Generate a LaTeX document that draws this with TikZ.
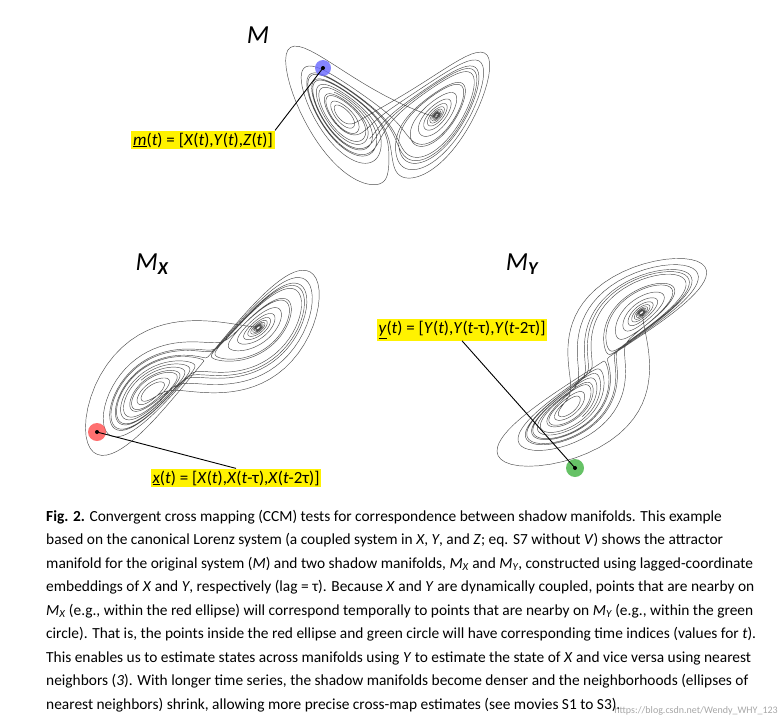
\documentclass[tikz,border=0pt]{standalone}
\usepackage{fontspec}
\setmainfont{Carlito}
\newcount\lc
\newcommand{\lorenzrun}[3]{% #1 px expr, #2 py expr, #3 steps
  \def\lx{1}\def\ly{1}\def\lz{20}\lc=0
  \loop
    \pgfmathsetmacro\dx{10*(\ly-\lx)}%
    \pgfmathsetmacro\dy{\lx*(28-\lz)-\ly}%
    \pgfmathsetmacro\dz{\lx*\ly-2.6667*\lz}%
    \pgfmathsetmacro\lx{\lx+0.008*\dx}%
    \pgfmathsetmacro\ly{\ly+0.008*\dy}%
    \pgfmathsetmacro\lz{\lz+0.008*\dz}%
    \pgfmathsetmacro\ppx{#1}\pgfmathsetmacro\ppy{-(#2)}%
    \ifnum\lc=150 \pgfpathmoveto{\pgfpoint{\ppx pt}{\ppy pt}}\fi
    \ifnum\lc>150 \pgfpathlineto{\pgfpoint{\ppx pt}{\ppy pt}}\fi
    \advance\lc 1
  \ifnum\lc<#3 \repeat
  \pgfsetlinewidth{0.45pt}\pgfsetstrokecolor{black!70}\pgfusepath{stroke}}
\begin{document}
\begin{tikzpicture}[x=1pt,y=-1pt,
  lab/.style={fill=yellow,inner sep=2pt,font=\fontsize{17}{19}\selectfont},
  ttl/.style={font=\fontsize{26}{28}\selectfont\itshape},
  conn/.style={line width=0.9pt}]
\useasboundingbox (0,0) rectangle (781,717);
\begin{scope}
\lorenzrun{390+5.5*\lx}{122-3.3*(\lz-25)}{2600}
\end{scope}
\begin{scope}
\lorenzrun{205+6.3*\lx}{360-3.8*\ly}{2600}
\end{scope}
\begin{scope}
\lorenzrun{605+4.3*\ly}{360-5.6*\lx}{2600}
\end{scope}
\node[ttl] (tM) at (258,35) {M};
\node[ttl] (tMX) at (152,264) {M\textsubscript{\textbf{X}}};
\node[ttl] (tMY) at (522,264) {M\textsubscript{\textbf{Y}}};
\node[circle,fill=blue!60,opacity=0.8,minimum size=16pt] (bd) at (323,68) {};
\node[circle,fill=red!70,opacity=0.8,minimum size=18pt] (rd) at (97,432) {};
\node[circle,fill=green!60!black,opacity=0.6,minimum size=18pt] (gd) at (575,468) {};
\fill (bd) circle (2pt) (rd) circle (2pt) (gd) circle (2pt);
\node[lab] (lm) at (203,140) {\underline{\textit{m}}(\textit{t}) = [\textit{X}(\textit{t}),\textit{Y}(\textit{t}),\textit{Z}(\textit{t})]};
\node[lab] (lx) at (236,478) {\underline{\textit{x}}(\textit{t}) = [\textit{X}(\textit{t}),\textit{X}(\textit{t}-τ),\textit{X}(\textit{t}-2τ)]};
\node[lab] (ly) at (462,330) {\underline{\textit{y}}(\textit{t}) = [\textit{Y}(\textit{t}),\textit{Y}(\textit{t}-τ),\textit{Y}(\textit{t}-2τ)]};
\draw[conn] (bd.center) -- (lm.north east);
\draw[conn] (rd.center) -- (lx.north);
\draw[conn] (ly.south) -- (gd.center);
\node[anchor=north west,align=left,inner sep=0pt,font=\fontsize{15.4}{23.5}\selectfont] (cap) at (46,510) {%
\textbf{Fig. 2.} Convergent cross mapping (CCM) tests for correspondence between shadow manifolds. This example\\
based on the canonical Lorenz system (a coupled system in \textit{X}, \textit{Y}, and \textit{Z}; eq. S7 without \textit{V}) shows the attractor\\
manifold for the original system (\textit{M}) and two shadow manifolds, \textit{M\textsubscript{X}} and \textit{M\textsubscript{Y}}, constructed using lagged-coordinate\\
embeddings of \textit{X} and \textit{Y}, respectively (lag = τ). Because \textit{X} and \textit{Y} are dynamically coupled, points that are nearby on\\
\textit{M\textsubscript{X}} (e.g., within the red ellipse) will correspond temporally to points that are nearby on \textit{M\textsubscript{Y}} (e.g., within the green\\
circle). That is, the points inside the red ellipse and green circle will have corresponding time indices (values for \textit{t}).\\
This enables us to estimate states across manifolds using \textit{Y} to estimate the state of \textit{X} and vice versa using nearest\\
neighbors (\textit{3}). With longer time series, the shadow manifolds become denser and the neighborhoods (ellipses of\\
nearest neighbors) shrink, allowing more precise cross-map estimates (see movies S1 to S3).};
\node[anchor=south east,text=black!35,font=\fontsize{10}{12}\selectfont,inner sep=1pt] (wm) at (779,716) {https://blog.csdn.net/Wendy\_WHY\_123};
\end{tikzpicture}
\end{document}
